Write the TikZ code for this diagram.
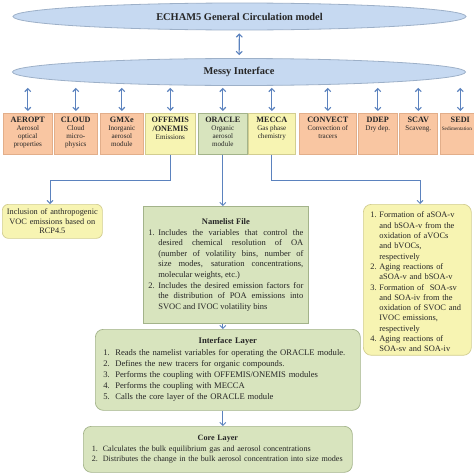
\documentclass[tikz,border=0pt]{standalone}
\usepackage{fontspec}
\setmainfont{Liberation Serif}
\usetikzlibrary{shapes.geometric,arrows.meta}
\definecolor{ellfill}{HTML}{C6D9F1}
\definecolor{elldraw}{HTML}{9DB0C8}
\definecolor{orfill}{HTML}{F9C6A2}
\definecolor{ordraw}{HTML}{E2AE8A}
\definecolor{yefill}{HTML}{F7F4B2}
\definecolor{yedraw}{HTML}{D2CD90}
\definecolor{grfill}{HTML}{D8E4BE}
\definecolor{grdraw}{HTML}{A3B38A}
\definecolor{arr}{HTML}{5B82BE}
\definecolor{txt}{HTML}{262626}
\newcommand{\modtxt}[3]{\parbox[c][35pt][t]{#1}{\centering\vspace*{1pt}{\fontsize{8.2}{8.5}\selectfont\bfseries #2\par}\fontsize{7.1}{8}\selectfont #3\par}}
\newcommand{\nitem}[2]{\par\hangindent=#1\hangafter=1\noindent\makebox[#1][l]{#2}\ignorespaces}
\begin{document}
\begin{tikzpicture}[x=1pt,y=-1pt,
  every node/.style={text=txt},
  ell/.style={ellipse, draw=elldraw, fill=ellfill, line width=0.8pt, minimum width=453pt, minimum height=27pt, inner sep=0pt, font=\fontsize{10.4}{12}\selectfont\bfseries},
  mod/.style={draw=#1draw, fill=#1fill, line width=0.6pt, anchor=north west, inner xsep=0pt, inner ysep=3pt, minimum height=41pt},
  tbox/.style={draw=#1draw, fill=#1fill, line width=0.7pt, anchor=north west},
  dar/.style={draw=arr, line width=1.1pt, {Straight Barb[length=3pt,width=6pt]}-{Straight Barb[length=3pt,width=6pt]}, shorten <=2pt, shorten >=2pt},
  conn/.style={draw=arr, line width=0.9pt, -{Straight Barb[length=3pt,width=6pt]}},
]
\useasboundingbox (0,0) rectangle (474,474);

\node[ell] (echam) at (239.5,16.5) {ECHAM5 General Circulation model};
\node[ell] (messy) at (239,72) {Messy Interface};
\draw[dar, shorten <=3pt, shorten >=3pt] (echam) -- (messy);

\node[mod=or] (aeropt) at (3,113) {\modtxt{49pt}{AEROPT}{Aerosol\\optical\\properties}};
\node[mod=or] (cloud) at (54,113) {\modtxt{43pt}{CLOUD}{Cloud\\micro-\\physics}};
\node[mod=or] (gmxe) at (100,113) {\modtxt{43pt}{GMXe}{Inorganic\\aerosol\\module}};
\node[mod=ye] (offemis) at (145,113) {\modtxt{50pt}{OFFEMIS\\/ONEMIS}{Emissions}};
\node[mod=gr] (oracle) at (198,113) {\modtxt{49pt}{ORACLE}{Organic\\aerosol\\module}};
\node[mod=ye] (mecca) at (248,113) {\modtxt{47pt}{MECCA}{Gas phase\\chemistry}};
\node[mod=or] (convect) at (299,113) {\modtxt{57pt}{CONVECT}{Convection of\\tracers}};
\node[mod=or] (ddep) at (358,113) {\modtxt{39pt}{DDEP}{Dry dep.}};
\node[mod=or] (scav) at (399,113) {\modtxt{38pt}{SCAV}{Scaveng.}};
\node[mod=or] (sedi) at (440,113) {\modtxt{40pt}{SEDI}{\makebox[40pt][l]{\hspace{1.5pt}\fontsize{5.2}{8}\selectfont Sedimentation}}};

\foreach \m in {aeropt,cloud,gmxe,offemis,oracle,mecca,convect,ddep,scav,sedi}
  \draw[dar] (\m.north |- messy.south) -- (\m.north);

\node[tbox=ye, rounded corners=6pt, text width=94pt, inner xsep=3pt, minimum height=34pt, align=center,
  font=\fontsize{8.3}{9.6}\selectfont] (incl) at (2,204)
  {Inclusion of anthropogenic\\VOC emissions based on\\RCP4.5};

\node[tbox=gr, text width=155pt, inner xsep=5pt, minimum height=117pt, align=justify,
  font=\fontsize{8.5}{10.6}\selectfont] (namelist) at (143,206)
  {\parindent=0pt\emergencystretch=10pt
   {\centering\bfseries Namelist File\par}
   \nitem{10pt}{1.}Includes the variables that control the\linebreak desired chemical resolution of OA\linebreak (number of volatility bins, number of\linebreak size modes, saturation concentrations,\linebreak molecular weights, etc.)\par
   \nitem{10pt}{2.}Includes the desired emission factors for\linebreak the distribution of POA emissions into\linebreak SVOC and IVOC volatility bins\par};

\node[tbox=ye, rounded corners=8pt, text width=98pt, inner xsep=5pt, minimum height=149pt, align=left,
  font=\fontsize{8.4}{10.3}\selectfont] (right) at (363,204)
  {\parindent=0pt
   \nitem{11pt}{\hspace{2pt}1.}Formation of aSOA-v\newline and bSOA-v from the\newline oxidation of aVOCs\newline and bVOCs,\newline respectively\par
   \nitem{11pt}{\hspace{2pt}2.}Aging reactions of\newline aSOA-v and bSOA-v\par
   \nitem{11pt}{\hspace{2pt}3.}Formation of~ SOA-sv\newline and SOA-iv from the\newline oxidation of SVOC and\newline IVOC emissions,\newline respectively\par
   \nitem{11pt}{\hspace{2pt}4.}Aging reactions of\newline SOA-sv and SOA-iv\par};

\node[tbox=gr, rounded corners=8pt, text width=257pt, inner xsep=4pt, minimum height=81pt, align=left,
  font=\fontsize{8.6}{11.2}\selectfont] (interface) at (95,329)
  {\parindent=0pt
   {\centering\bfseries Interface Layer\par}
   \nitem{16pt}{\hspace{4pt}1.}Reads the namelist variables for operating the ORACLE module.\par
   \nitem{16pt}{\hspace{4pt}2.}Defines the new tracers for organic compounds.\par
   \nitem{16pt}{\hspace{4pt}3.}Performs the coupling with OFFEMIS/ONEMIS modules\par
   \nitem{16pt}{\hspace{4pt}4.}Performs the coupling with MECCA\par
   \nitem{16pt}{\hspace{4pt}5.}Calls the core layer of the ORACLE module\par};

\node[tbox=gr, rounded corners=8pt, text width=264pt, inner xsep=2.5pt, minimum height=46pt, align=left,
  font=\fontsize{8.1}{10.4}\selectfont] (core) at (83,426)
  {\parindent=0pt\hbadness=10000
   {\centering\bfseries Core Layer\par}
   \nitem{17pt}{\hspace{6pt}1.}Calculates the bulk equilibrium gas and aerosol concentrations\par
   \nitem{17pt}{\hspace{6pt}2.}Distributes the change in the bulk aerosol concentration into size modes\par};

\coordinate (offbend) at (50,180);
\coordinate (meccabend) at (420,180);
\draw[conn] (offemis.south) |- (offbend) -- (offbend |- incl.north);
\draw[conn] (mecca.south) |- (meccabend) -- (meccabend |- right.north);
\draw[conn] (oracle.south) -- (oracle.south |- namelist.north);
\draw[conn] (namelist.south -| oracle.south) -- (oracle.south |- interface.north);
\draw[conn] (interface.south -| oracle.south) -- (oracle.south |- core.north);
\end{tikzpicture}
\end{document}
